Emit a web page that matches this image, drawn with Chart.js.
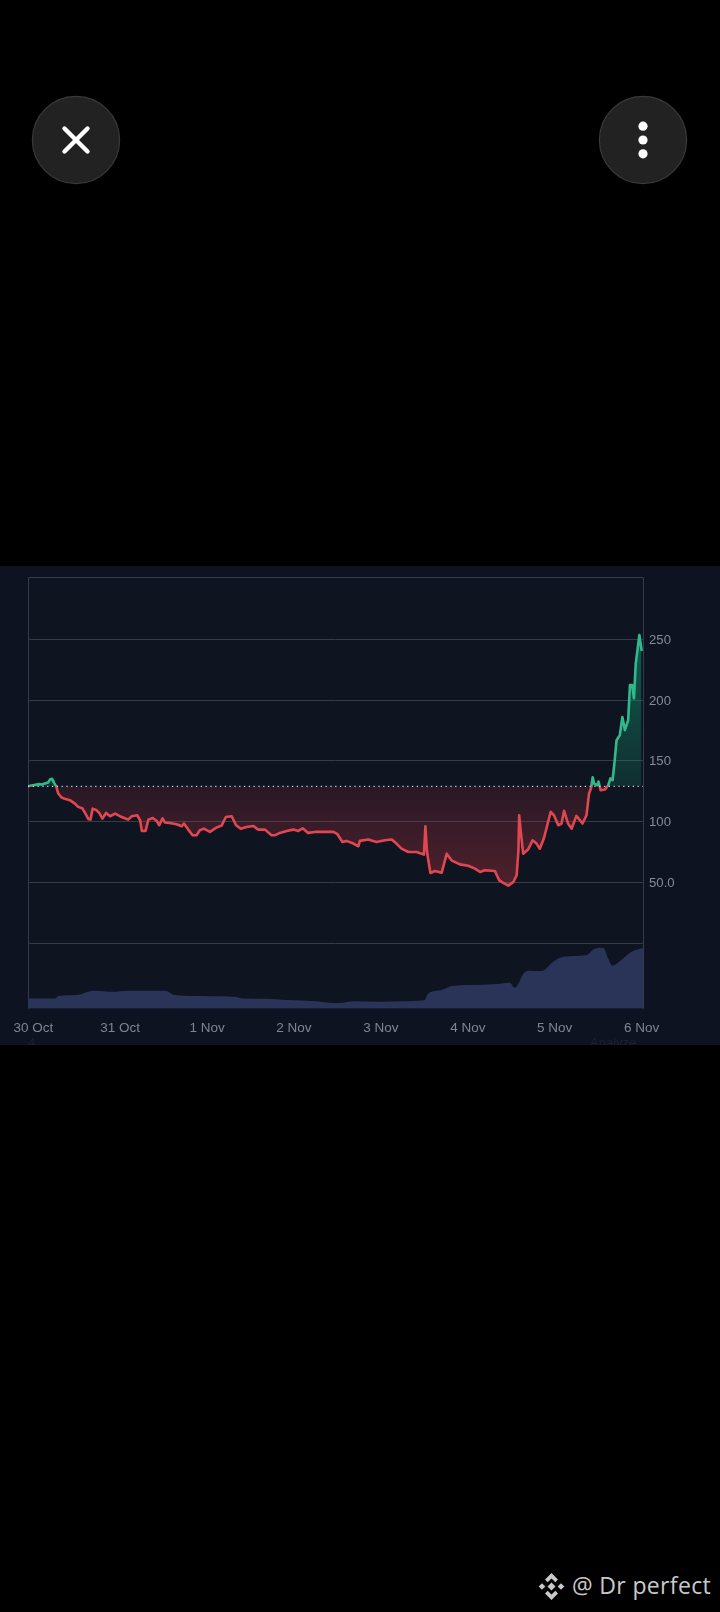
<!DOCTYPE html>
<html>
<head>
<meta charset="utf-8">
<title>Price chart</title>
<script src="https://cdn.jsdelivr.net/npm/chart.js@4"></script>
<style>
html, body { margin: 0; padding: 0; background: #000; }
body { position: relative; width: 720px; height: 1612px; overflow: hidden; font-family: "Liberation Sans", sans-serif; }
.btn { position: absolute; top: 95px; width: 90px; height: 90px; }
#panel { position: absolute; left: 0; top: 566px; width: 720px; height: 479px; background: #0e1322; overflow: hidden; }
#panel canvas { position: absolute; left: 0; top: 0; filter: blur(0.4px); }
.ghost { position: absolute; top: 469px; font-size: 13px; color: #1c2130; line-height: 15px; }
#mark { position: absolute; left: 572px; top: 1569px; font-family: "Open Sans", sans-serif; font-size: 23px; line-height: 32px; letter-spacing: 0.35px; color: #c9c9c9; white-space: nowrap; }
#markIcon { position: absolute; left: 538px; top: 1573px; width: 27px; height: 27px; }
</style>
</head>
<body>
<svg class="btn" style="left:31px" viewBox="0 0 90 90">
  <circle cx="45" cy="45" r="43.6" fill="#222" stroke="#3a3a3a" stroke-width="1.2"/>
  <path d="M33.5 33.5 L56.5 56.5 M56.5 33.5 L33.5 56.5" stroke="#fff" stroke-width="4.4" stroke-linecap="round"/>
</svg>
<svg class="btn" style="left:598px" viewBox="0 0 90 90">
  <circle cx="45" cy="45" r="43.6" fill="#222" stroke="#3a3a3a" stroke-width="1.2"/>
  <circle cx="45" cy="31.2" r="4.6" fill="#fff"/>
  <circle cx="45" cy="45" r="4.6" fill="#fff"/>
  <circle cx="45" cy="58.8" r="4.6" fill="#fff"/>
</svg>

<div id="panel">
  <canvas id="chart" width="720" height="479"></canvas>
  <div class="ghost" style="left:28px">4</div>
  <div class="ghost" style="left:590px">Analyze</div>
</div>

<svg id="markIcon" viewBox="0 0 27 27">
  <g fill="#c9c9c9">
    <path d="M13.5 0 L20 6.5 L17.3 9.2 L13.5 5.4 L9.7 9.2 L7 6.5 Z"/>
    <path d="M13.5 27 L20 20.5 L17.3 17.8 L13.5 21.6 L9.7 17.8 L7 20.5 Z"/>
    <path d="M13.5 9.5 L17.5 13.5 L13.5 17.5 L9.5 13.5 Z"/>
    <path d="M4 10.2 L7.3 13.5 L4 16.8 L0.7 13.5 Z"/>
    <path d="M23 10.2 L26.3 13.5 L23 16.8 L19.7 13.5 Z"/>
  </g>
</svg>
<div id="mark">@ Dr perfect</div>

<script>
// hours since 30 Oct 00:00
var priceHours = [-1.4,-0.5,0.5,1.4,2.3,3.2,4.1,4.6,5.2,5.7,6.3,6.9,7.8,8.7,10.3,11.5,12.4,13.6,14.4,15.2,15.8,16.4,17.5,18.2,19.1,20.1,21.2,22.6,23.9,25.3,26.2,27.2,28.7,29.5,30.0,31.0,31.8,33.0,34.1,34.8,35.7,36.4,37.7,39.6,41.0,41.6,42.8,44.0,45.1,46.0,47.1,48.8,50.6,52.0,53.2,54.8,56.0,57.3,58.9,60.8,62.1,64.0,65.8,66.7,68.1,70.0,71.8,73.2,74.4,75.9,77.8,80.1,82.9,84.0,85.4,86.5,88.4,89.8,90.2,92.5,94.8,97.1,99.0,100.3,101.7,103.6,105.9,107.9,108.3,108.7,109.1,109.7,110.9,112.8,114.2,115.5,117.8,120.1,122.0,123.4,124.7,127.5,128.7,129.8,131.2,132.6,133.5,134.0,134.2,134.7,135.3,136.7,137.9,139.0,139.9,141.0,142.2,142.9,143.8,145.0,145.9,146.6,147.7,148.7,150.0,151.7,152.8,153.5,154.1,154.5,154.9,155.8,156.1,156.7,157.9,158.8,159.4,160.0,160.5,161.1,162.0,162.7,163.4,164.3,164.8,165.4,165.9,166.4,167.4,168.0];
var priceValues = [129.1,129.7,130.2,130.8,130.5,131.3,132.1,134.6,135.2,132.1,129.1,123.1,119.8,118.7,117.3,114.8,112.1,110.7,106.6,102.2,101.6,110.7,109.3,107.1,102.5,107.1,104.4,106.6,104.4,102.7,101.6,104.4,105.2,101.1,92.3,92.3,101.6,103.0,100.5,97.0,102.7,99.2,98.9,97.8,96.2,98.4,93.4,88.7,88.7,92.9,94.2,91.5,95.1,96.7,103.8,104.4,97.0,94.2,95.6,96.4,93.4,93.4,88.7,88.7,90.7,92.3,93.4,92.3,94.5,90.7,91.5,91.5,91.5,89.6,83.2,84.1,81.9,79.7,84.1,85.2,83.2,84.6,85.2,81.9,77.7,75.0,75.0,72.8,96.2,76.4,68.1,57.7,59.3,58.0,73.6,68.1,64.8,63.7,61.3,58.5,59.9,59.3,51.6,49.5,47.3,50.3,55.8,76.4,105.2,90.1,73.6,77.2,84.6,81.9,77.7,86.0,99.7,108.0,105.2,97.0,98.4,108.8,98.4,94.2,104.7,98.4,105.2,123.1,128.0,136.5,131.3,129.9,133.0,125.8,126.4,129.9,135.5,134.1,147.8,167.0,171.2,186.0,175.3,183.5,212.4,212.4,201.4,230.2,253.5,241.2];
var basePrice = 129;

var volumeHours = [-1.46,6.0,6.9,12.0,15.2,17.0,22.1,25.8,36.4,39.1,44.2,55.2,58.0,64.4,70.0,78.3,82.9,85.6,88.4,95.7,102.2,107.9,109.1,112.8,115.5,120.6,128.0,131.6,133.0,134.0,135.3,137.2,140.4,143.6,146.4,152.8,154.7,157.4,158.8,159.9,162.9,165.2,168.4];
var volumeValues = [16.7,16.7,20.5,22.1,27.5,29.2,27.5,29.2,29.2,22.1,20.5,19.4,16.7,16.2,14.0,11.9,9.2,9.7,11.9,11.3,11.9,13.5,24.8,30.2,36.7,38.3,40.0,42.1,34.0,41.0,56.2,61.6,61.0,76.1,84.2,86.9,96.1,98.8,81.5,70.2,81.5,92.3,98.3];

var dayLabels = ['30 Oct','31 Oct','1 Nov','2 Nov','3 Nov','4 Nov','5 Nov','6 Nov'];
var yTicks = [0,50,100,150,200,250];
var yTickLabels = ['','50.0','100','150','200','250'];

function toPoints(xs, ys) {
    return xs.map(function (x, i) { return { x: x, y: ys[i] }; });
}

var red = '#e24650';
var green = '#30b98b';
var gridColor = '#353b4a';

// gradients need the chart area, so they are made once the layout is known
var gradientPlugin = {
    id: 'priceColors',
    afterLayout: function (chart) {
        var ctx = chart.ctx, area = chart.chartArea, y = chart.scales.y;
        var basePx = y.getPixelForValue(basePrice);
        var stop = (basePx - area.top) / (area.bottom - area.top);

        var line = ctx.createLinearGradient(0, area.top, 0, area.bottom);
        line.addColorStop(0, green);
        line.addColorStop(stop, green);
        line.addColorStop(stop, red);
        line.addColorStop(1, red);

        var above = ctx.createLinearGradient(0, y.getPixelForValue(250), 0, basePx);
        above.addColorStop(0, 'rgba(20,150,110,0.55)');
        above.addColorStop(1, 'rgba(20,150,110,0.2)');

        var below = ctx.createLinearGradient(0, basePx, 0, y.getPixelForValue(50));
        below.addColorStop(0, 'rgba(230,60,70,0.12)');
        below.addColorStop(1, 'rgba(230,60,70,0.29)');

        var ds = chart.data.datasets[0];
        ds.borderColor = line;
        ds.fill = { value: basePrice, above: above, below: below };
    },
    beforeDraw: function (chart) {
        var ctx = chart.ctx, a = chart.chartArea;
        ctx.save();
        ctx.fillStyle = '#0f1421';
        ctx.fillRect(a.left, a.top, a.right - a.left, a.bottom - a.top);
        ctx.strokeStyle = gridColor;
        ctx.lineWidth = 1;
        ctx.beginPath();
        ctx.moveTo(a.left + 0.5, a.bottom);
        ctx.lineTo(a.left + 0.5, a.top + 0.5);
        ctx.lineTo(a.right + 0.5, a.top + 0.5);
        ctx.lineTo(a.right + 0.5, a.bottom);
        ctx.stroke();
        ctx.restore();
    }
};

new Chart(document.getElementById('chart').getContext('2d'), {
    type: 'line',
    plugins: [gradientPlugin],
    data: {
        datasets: [
            {
                data: toPoints(priceHours, priceValues),
                yAxisID: 'y',
                borderColor: red,
                borderWidth: 2.6,
                borderJoinStyle: 'round',
                borderCapStyle: 'round',
                pointRadius: 0,
                tension: 0,
                order: 1
            },
            {
                data: toPoints([-1.46, 168.4], [basePrice, basePrice]),
                yAxisID: 'y',
                borderColor: '#d5d8de',
                borderWidth: 1.2,
                borderDash: [1.2, 3.6],
                pointRadius: 0,
                fill: false,
                order: 0
            },
            {
                data: toPoints(volumeHours, volumeValues),
                yAxisID: 'vol',
                borderWidth: 0,
                pointRadius: 0,
                cubicInterpolationMode: 'monotone',
                backgroundColor: '#2a3358',
                fill: 'origin',
                order: 2
            }
        ]
    },
    options: {
        responsive: false,
        animation: false,
        events: [],
        layout: { padding: { left: 28, top: 11, right: 0, bottom: 0 } },
        plugins: { legend: { display: false }, tooltip: { enabled: false } },
        scales: {
            x: {
                type: 'linear',
                min: -1.46,
                max: 168.4,
                afterFit: function (s) {
                    s.height = 36.3;
                    s.paddingLeft = 0;
                    s.paddingRight = 0;
                },
                afterBuildTicks: function (s) {
                    s.ticks = dayLabels.map(function (d, i) { return { value: i * 24 }; });
                },
                grid: { display: false },
                border: { display: false },
                ticks: {
                    autoSkip: false,
                    maxRotation: 0,
                    padding: 3,
                    color: '#7f8494',
                    font: { family: 'Liberation Sans', size: 13.5 },
                    callback: function (v) { return dayLabels[v / 24]; }
                }
            },
            y: {
                position: 'right',
                min: -54,
                max: 301.3,
                afterFit: function (s) {
                    s.width = 77;
                    s.paddingTop = 0;
                    s.paddingBottom = 0;
                },
                afterBuildTicks: function (s) {
                    s.ticks = yTicks.map(function (v) { return { value: v }; });
                },
                grid: { color: gridColor, lineWidth: 1, drawTicks: false },
                border: { display: false },
                ticks: {
                    padding: 6,
                    labelOffset: 1,
                    color: '#858a98',
                    font: { family: 'Liberation Sans', size: 13.2 },
                    callback: function (v) { return yTickLabels[yTicks.indexOf(v)]; }
                }
            },
            vol: { display: false, min: 0, max: 700 }
        }
    }
});
</script>
</body>
</html>
